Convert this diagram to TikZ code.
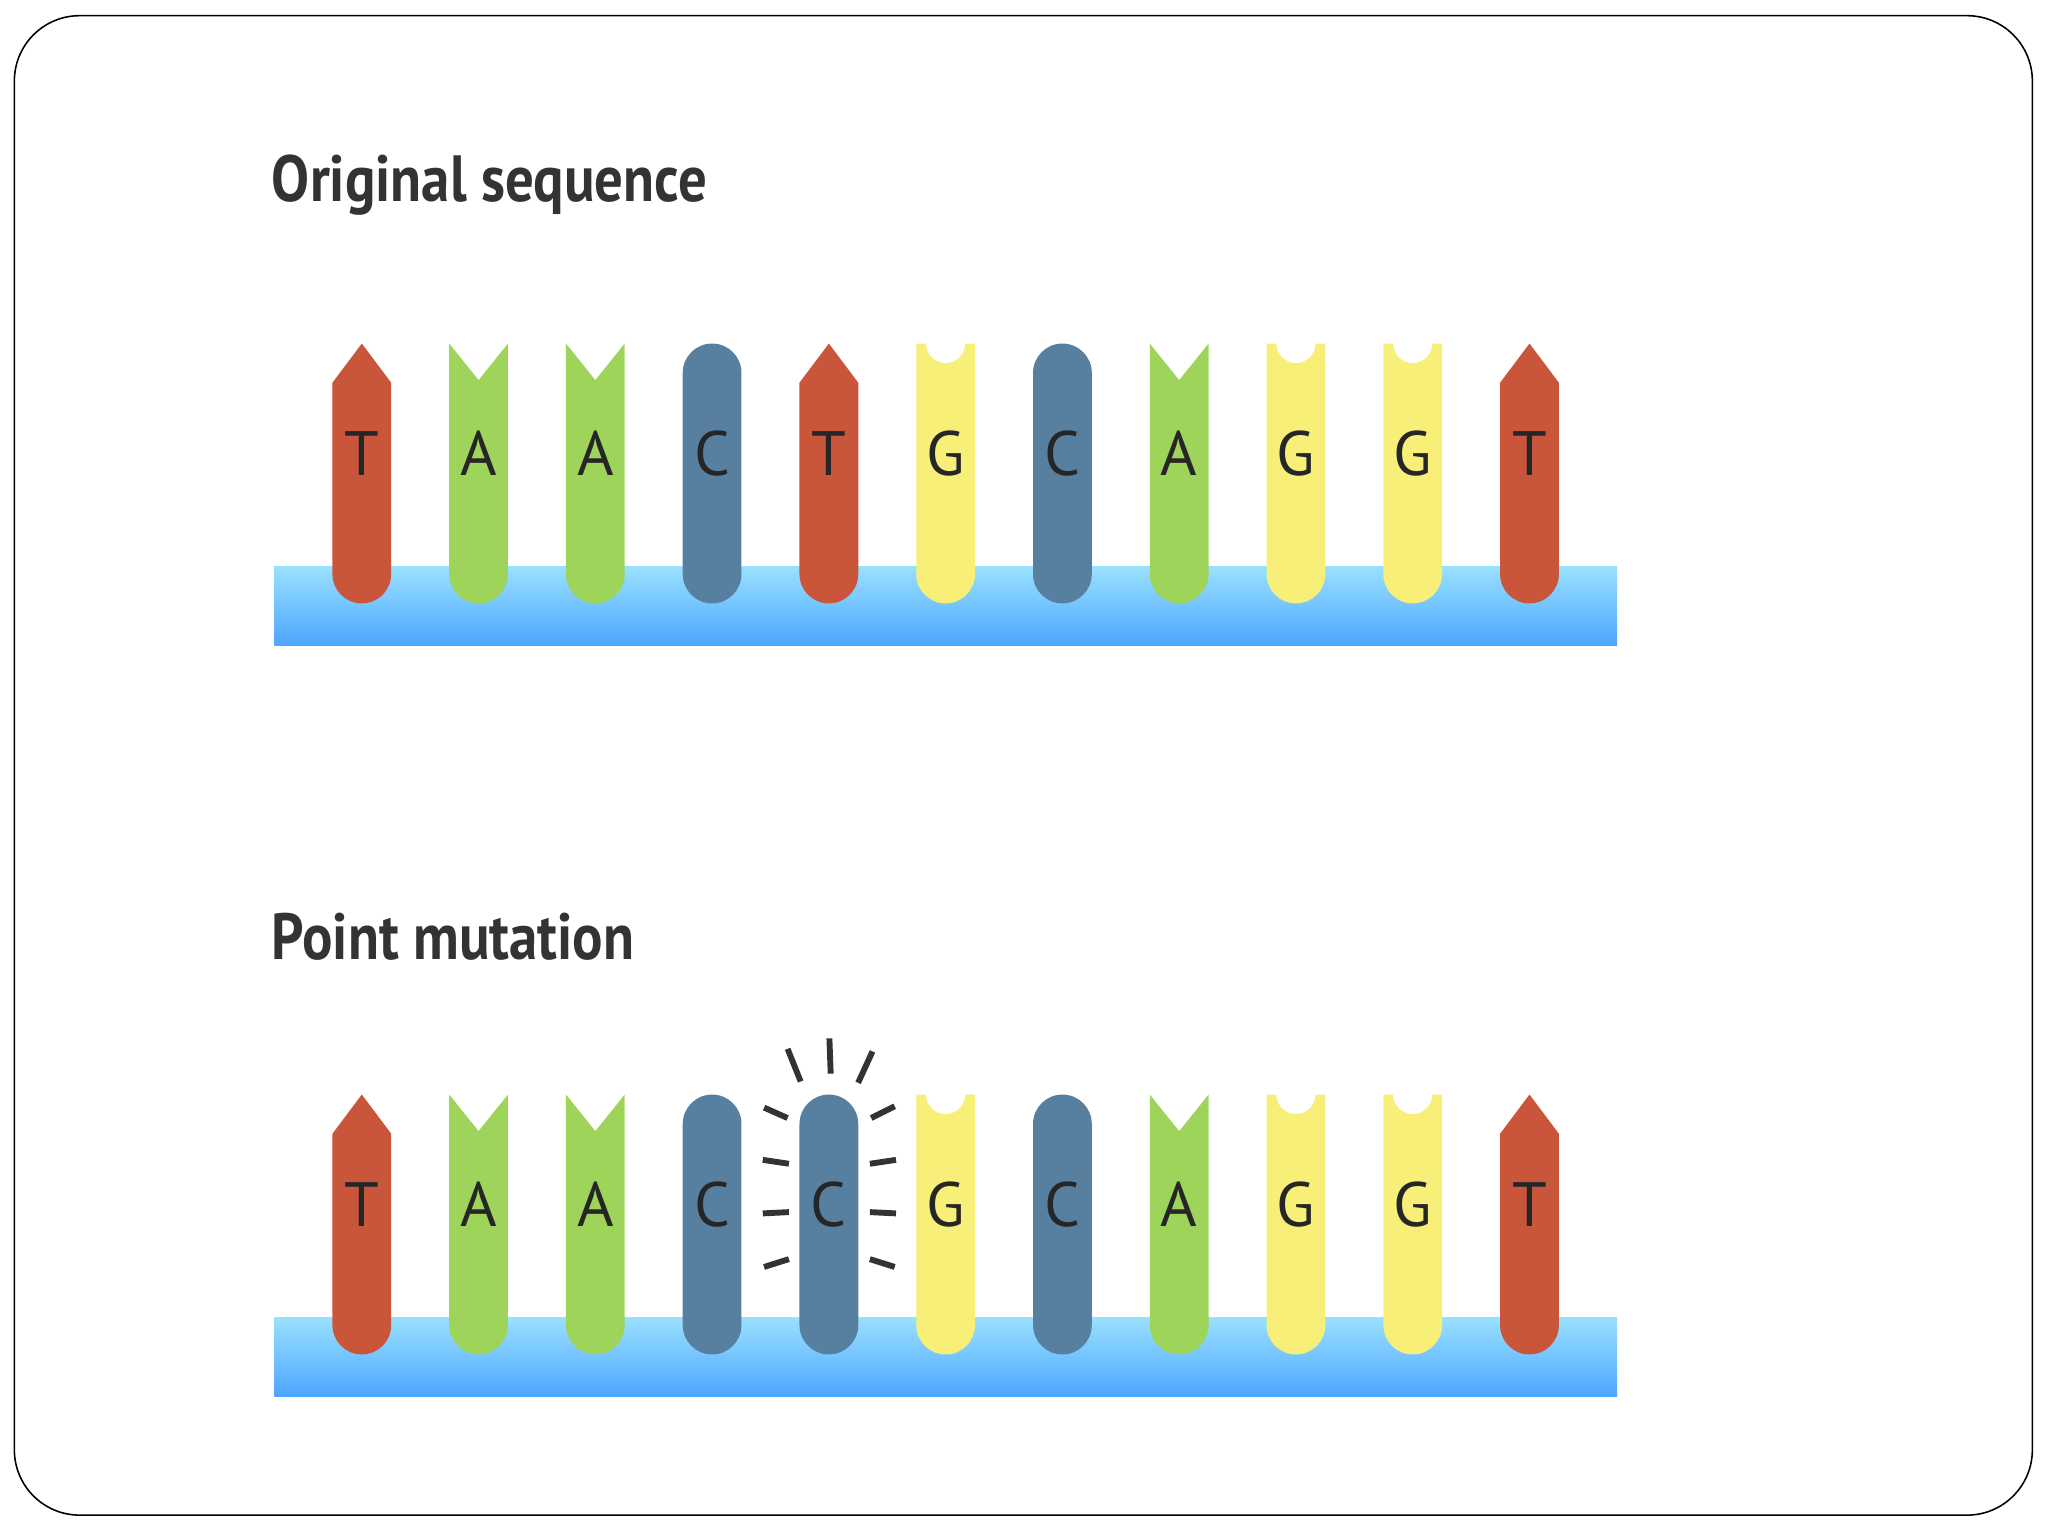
\documentclass[tikz,border=0pt]{standalone}
\usepackage{fontspec}
\setmainfont{PT Sans}
\newfontfamily\titlefont[FakeStretch=0.87]{PT Sans}
\definecolor{baseT}{HTML}{C9553B}
\definecolor{baseA}{HTML}{9FD45A}
\definecolor{baseC}{HTML}{567FA0}
\definecolor{baseG}{HTML}{F7EF78}
\definecolor{ink}{HTML}{333333}
\def\kT{T}\def\kA{A}\def\kC{C}\def\kG{G}
% one nucleotide pillar: x, top y, letter, name
\newcommand\nucl[4]{%
  \def\w{22.5}\pgfmathsetmacro\yb{#2+199-\w}\edef\kind{#3}%
  \ifx\kind\kT\fill[baseT] (#1-\w,\yb) -- (#1-\w,#2+30) -- (#1,#2) -- (#1+\w,#2+30) -- (#1+\w,\yb) arc(0:180:\w) -- cycle;\fi
  \ifx\kind\kA\fill[baseA] (#1-\w,\yb) -- (#1-\w,#2) -- (#1,#2+28) -- (#1+\w,#2) -- (#1+\w,\yb) arc(0:180:\w) -- cycle;\fi
  \ifx\kind\kC\fill[baseC] (#1-\w,\yb) -- (#1-\w,#2+\w) arc(180:360:\w) -- (#1+\w,\yb) arc(0:180:\w) -- cycle;\fi
  \ifx\kind\kG\fill[baseG] (#1-\w,\yb) -- (#1-\w,#2) -- (#1-15,#2) arc(180:0:15) -- (#1+\w,#2) -- (#1+\w,\yb) arc(0:180:\w) -- cycle;\fi
  \node[letter] (#4) at (#1,#2+84) {#3};}
\begin{document}
\begin{tikzpicture}[x=1pt,y=-1pt,
  title/.style={anchor=west,inner sep=0pt,text=ink,font=\fontsize{50}{50}\titlefont\bfseries},
  letter/.style={inner sep=0pt,text=black!85,font=\fontsize{48}{48}\selectfont},
  flash/.style={line width=4.5pt,draw=ink}]
\useasboundingbox (0,0) rectangle (1568,1176);
\draw[line width=1.2pt,rounded corners=50] (11,12) rectangle (1556,1160);
\node[title] (orig) at (208,142) {Original sequence};
\node[title] (point) at (208,717) {Point mutation};
\foreach \dy/\row/\seq in {0/o/{T,A,A,C,T,G,C,A,G,G,T},575/m/{T,A,A,C,C,G,C,A,G,G,T}}{
  \shade[top color=blue!30!cyan!40,bottom color=blue!50!cyan!70!white] (210,434+\dy) rectangle (1238,494+\dy);
  \foreach \b [count=\i from 0] in \seq {
    \pgfmathsetmacro\xx{277+89.4*\i}
    \nucl{\xx}{263+\dy}{\b}{\row\i}
  }
}
% flash around the changed base
\foreach \a/\b/\c/\d in {603/803/613/828,635/795/636/822,668/805/657/829,
  585/848/603/856,584/888/604/891,584/929/604/928,585/970/604/964,
  667/856/685/847,666/891/686/888,666/928/686/929,666/964/685/970}
  \draw[flash] (\a,\b) -- (\c,\d);
\end{tikzpicture}
\end{document}
